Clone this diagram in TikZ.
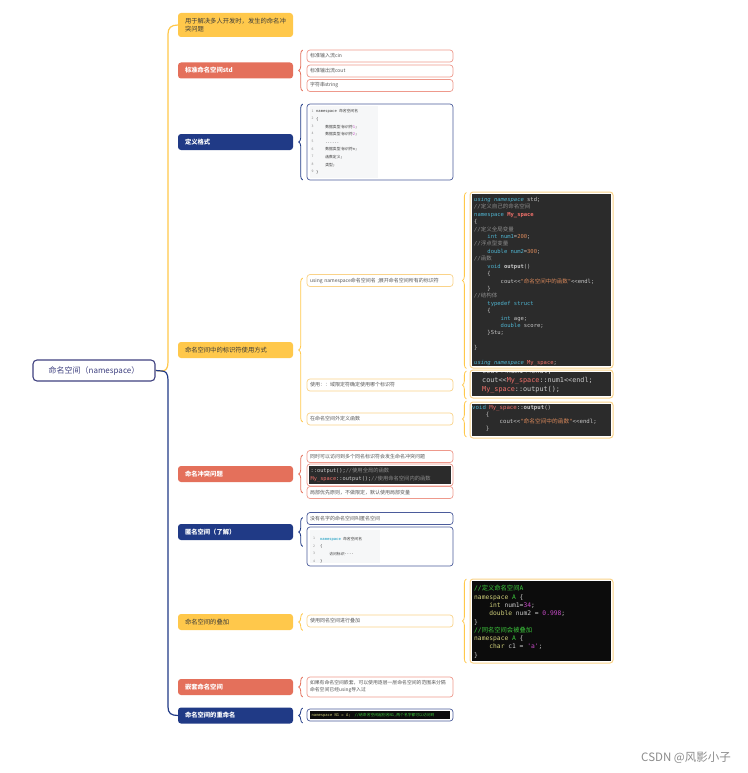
\documentclass[tikz,border=0pt]{standalone}
\usepackage{fontspec}
\setmainfont{Noto Sans CJK SC}
\setmonofont{DejaVu Sans Mono}
\newfontfamily\cjk{Noto Sans CJK SC}
\usetikzlibrary{decorations.pathreplacing}
\definecolor{nsyellow}{HTML}{FFC84B}
\definecolor{nsyellowl}{HTML}{FAD389}
\definecolor{nsred}{HTML}{E4705B}
\definecolor{nsredl}{HTML}{EE998C}
\definecolor{nsblue}{HTML}{203A86}
\definecolor{nsbluel}{HTML}{4B5B9B}
\definecolor{nsroot}{HTML}{3F4180}
\definecolor{nstext}{HTML}{3A3A3A}
\definecolor{nsgray}{HTML}{555555}
\definecolor{codebg}{HTML}{2B2B2B}
\definecolor{codefg}{HTML}{C8C8C8}
\definecolor{lightbg}{HTML}{F6F7F8}
\definecolor{kwc}{HTML}{4FB3CF}
\definecolor{cmc}{HTML}{8C8C8C}
\definecolor{nmc}{HTML}{F0706A}
\definecolor{numc}{HTML}{D9885A}
\definecolor{blkbg}{HTML}{0C0C0C}
\definecolor{grc}{HTML}{3CC83C}
\definecolor{ylc}{HTML}{CFCF7A}
\definecolor{mgc}{HTML}{C64AC6}
\newcommand\ind{\phantom{xxxx}}
\newcommand\ckw[1]{\textcolor{kwc}{#1}}
\newcommand\ccm[1]{\textcolor{cmc}{\itshape #1}}
\newcommand\cnm[1]{\textcolor{nmc}{#1}}
\newcommand\cnum[1]{\textcolor{numc}{#1}}
\newcommand\cgr[1]{\textcolor{grc}{#1}}
\newcommand\cyl[1]{\textcolor{ylc}{#1}}
\newcommand\cmg[1]{\textcolor{mgc}{#1}}
\newcommand\grpbrace[4]{\draw[grp,#3] ([shift={(#4,#2)}]#1.east) -- ([shift={(#4,-#2)}]#1.east);}
\begin{document}
\begin{tikzpicture}[x=1pt,y=-1pt,
  root/.style={draw=nsroot,line width=1.1pt,fill=white,rounded corners=4pt,minimum width=122pt,minimum height=21pt,inner sep=0pt,text=nsroot,font=\fontsize{8}{10}\selectfont},
  mainbox/.style={rounded corners=3pt,minimum width=115pt,minimum height=16pt,inner sep=0pt,text width=101pt,align=left,font=\fontsize{6.3}{8.3}\selectfont},
  ybox/.style={mainbox,fill=nsyellow,text=nstext},
  rbox/.style={mainbox,fill=nsred,text=white,font=\fontsize{6.3}{8.3}\selectfont\bfseries},
  bbox/.style={mainbox,fill=nsblue,text=white,font=\fontsize{6.3}{8.3}\selectfont\bfseries},
  leaf/.style={draw,fill=white,rounded corners=3pt,line width=.7pt,minimum width=146pt,minimum height=12pt,inner sep=0pt,text width=140pt,align=left,text=nsgray,font=\fontsize{5}{7}\selectfont},
  yleaf/.style={leaf,draw=nsyellowl},
  rleaf/.style={leaf,draw=nsredl},
  bleaf/.style={leaf,draw=nsbluel},
  codebox/.style={draw=nsyellowl,fill=white,rounded corners=3pt,line width=1pt,minimum width=143pt,inner sep=0pt},
  codetxt/.style={inner sep=0pt,anchor=north west,align=left,text=codefg},
  grp/.style={decorate,decoration={brace,amplitude=4pt},line width=.8pt}]
\fill[white] (0,0) rectangle (747,773);
\useasboundingbox (0,0) rectangle (747,773);

\node[root] (root) at (94,370.5) {命名空间（namespace）};

\node[ybox,minimum height=24pt] (c1) at (235.5,25) {用于解决多人开发时，发生的命名冲\\突问题};
\node[rbox] (c2) at (235.5,70.5) {标准命名空间std};
\node[bbox] (c3) at (235.5,142) {定义格式};
\node[ybox] (c4) at (235.5,350) {命名空间中的标识符使用方式};
\node[rbox] (c5) at (235.5,474) {命名冲突问题};
\node[bbox] (c6) at (235.5,532) {匿名空间（了解）};
\node[ybox] (c7) at (235.5,622) {命名空间的叠加};
\node[rbox] (c8) at (235.5,687) {嵌套命名空间};
\node[bbox] (c9) at (235.5,715.5) {命名空间的重命名};

\coordinate (tk) at (162,371);
\draw[nsyellow,line width=1.2pt] (root.east) -- (tk) .. controls (166,371) and (168,368) .. (168,362) -- (168,34) .. controls (168,28) and (171,25) .. (c1.west);
\draw[nsblue,line width=1.2pt] (root.east) -- (tk) .. controls (166,371) and (168,374) .. (168,380) -- (168,707) .. controls (168,713) and (171,715.5) .. (c9.west);

\node[rleaf] (l21) at (380,56) {标准输入流cin};
\node[rleaf] (l22) at (380,71) {标准输出流cout};
\node[rleaf] (l23) at (380,85.5) {字符串string};
\grpbrace{c2}{20.5}{nsred}{9.5}

\node[bleaf,minimum height=76pt] (l31) at (380,142) {};
\fill[lightbg] (310,106) rectangle (378,178);
\node[codetxt,text=cmc,font=\ttfamily\fontsize{3.2}{7.6}\selectfont] (n31) at (311.5,109.5) {1\\2\\3\\4\\5\\6\\7\\8\\9};
\node[codetxt,text=nstext,font=\ttfamily\fontsize{3.8}{7.6}\selectfont] (t31) at (316,109.5) {namespace {\cjk 命名空间名}\\\{\\\ind{\cjk 数据类型 标识符}\textcolor{mgc}{1};\\\ind{\cjk 数据类型 标识符}\textcolor{mgc}{2};\\\ind......\\\ind{\cjk 数据类型 标识符}n;\\\ind{\cjk 函数定义};\\\ind{\cjk 类型};\\\}};
\grpbrace{c3}{38}{nsblue}{9.5}

\node[yleaf] (l41) at (380,280.5) {using namespace命名空间名 ;展开命名空间所有的标识符};
\node[yleaf] (l42) at (380,385) {使用：：域限定符确定使用哪个标识符};
\node[yleaf] (l43) at (380,419) {在命名空间外定义函数};
\grpbrace{c4}{72}{nsyellow}{9.5}

\node[codebox,minimum height=176pt] (k41) at (541.5,280) {};
\fill[codebg] ([shift={(2.5,2.5)}]k41.north west) rectangle ([shift={(-2.5,-2.5)}]k41.south east);
\node[codetxt,font=\ttfamily\fontsize{5.5}{7.42}\selectfont] (t41) at ([shift={(4.5,5.5)}]k41.north west) {\ckw{\itshape using} \ckw{\itshape namespace} std;\\
\ccm{//{\cjk 定义自己的命名空间}}\\
\ckw{namespace} \cnm{\bfseries My\_space}\\
\{\\
\ccm{//{\cjk 定义全局变量}}\\
\ind\ckw{int} \ckw{num1}=\cnum{200};\\
\ccm{//{\cjk 浮点型变量}}\\
\ind\ckw{double} \ckw{num2}=\cnum{300};\\
\ccm{//{\cjk 函数}}\\
\ind\ckw{void} {\bfseries output}()\\
\ind\{\\
\ind\ind cout<<\cnum{"{\cjk 命名空间中的函数}"}<<endl;\\
\ind\}\\
\ccm{//{\cjk 结构体}}\\
\ind\ckw{typedef} \ckw{struct}\\
\ind\{\\
\ind\ind\ckw{int} age;\\
\ind\ind\ckw{double} score;\\
\ind\}Stu;\\
\mbox{}\\
\}\\
\mbox{}\\
\ckw{\itshape using} \ckw{\itshape namespace} \cnm{My\_space};};
\grpbrace{l41}{88}{nsyellow}{13}

\node[codebox,minimum height=28pt] (k42) at (541.5,384) {};
\fill[codebg] ([shift={(2.5,2.5)}]k42.north west) rectangle ([shift={(-2.5,-2.5)}]k42.south east);
\begin{scope}
\clip ([shift={(2.5,2.5)}]k42.north west) rectangle ([shift={(-2.5,-2.5)}]k42.south east);
\node[codetxt,font=\ttfamily\fontsize{6.8}{9}\selectfont] (t42) at (482,368) {cout<<num1<<endl;\\cout<<\cnm{My\_space}::num1<<endl;\\\cnm{My\_space}::output();};
\end{scope}
\grpbrace{l42}{14}{nsyellow}{13}

\node[codebox,minimum height=36pt] (k43) at (541.5,420) {};
\fill[codebg] ([shift={(2.5,2.5)}]k43.north west) rectangle ([shift={(-2.5,-2.5)}]k43.south east);
\node[codetxt,font=\ttfamily\fontsize{5.7}{6.9}\selectfont] (t43) at (472,405.2) {\ckw{void} \cnm{My\_space}::{\bfseries output}()\\\ind\{\\\ind\ind cout<<\cnum{"{\cjk 命名空间中的函数}"}<<endl;\\\ind\}};
\grpbrace{l43}{18}{nsyellow}{13}

\node[rleaf] (l51) at (380,456.5) {同时可以访问到多个同名标识符会发生命名冲突问题};
\node[rleaf,minimum height=22pt] (l52) at (380,475) {};
\fill[codebg] ([shift={(2,2.5)}]l52.north west) rectangle ([shift={(-2,-2.5)}]l52.south east);
\node[codetxt,font=\ttfamily\fontsize{5.3}{7.6}\selectfont] (t52) at (310.5,468.2) {::output();\ccm{//{\cjk 使用全局的函数}}\\\cnm{My\_space}::output();\ccm{//{\cjk 使用命名空间内的函数}}};
\node[rleaf] (l53) at (380,492.5) {局部优先原则，不做限定，默认使用局部变量};
\grpbrace{c5}{19}{nsred}{9.5}

\node[bleaf] (l61) at (380,518.5) {没有名字的命名空间叫匿名空间};
\node[bleaf,minimum height=39pt] (l62) at (380,546.5) {};
\fill[lightbg] (310,530) rectangle (380,563);
\node[codetxt,text=cmc,font=\ttfamily\fontsize{3.2}{7.5}\selectfont] (n62) at (313,537) {1\\2\\3\\4};
\node[codetxt,text=nstext,font=\ttfamily\fontsize{3.8}{7.5}\selectfont] (t62) at (320,537) {\textcolor{kwc}{\bfseries namespace} {\cjk 命名空间名}\\\{\\\ind{\cjk 访问标识}····\\\}};
\grpbrace{c6}{14.5}{nsblue}{9.5}

\node[yleaf] (l71) at (380,621) {使用同名空间进行叠加};
\grpbrace{c7}{8.5}{nsyellow}{9.5}
\node[codebox,minimum height=84pt] (k71) at (541.5,621) {};
\fill[blkbg] ([shift={(2.5,2.5)}]k71.north west) rectangle ([shift={(-2.5,-2.5)}]k71.south east);
\node[codetxt,font=\ttfamily\fontsize{6.3}{8.3}\selectfont] (t71) at (474,585.3) {\cgr{//{\cjk 定义命名空间}A}\\
\cyl{namespace} \cgr{A} \{\\
\ind\cyl{int} num1=\cmg{34};\\
\ind\cyl{double} num2 = \cmg{0.998};\\
\}\\
\cgr{//{\cjk 同名空间会被叠加}}\\
\cyl{namespace} \cgr{A} \{\\
\ind\cyl{char} c1 = \cmg{'a'};\\
\}};
\grpbrace{l71}{42}{nsyellow}{13}

\node[rleaf,minimum height=20pt] (l81) at (380,687) {\fontsize{4.85}{7.3}\selectfont 如果有命名空间嵌套，可以使用逐层一层命名空间的范围来分隔\\命名空间已经using导入过};
\grpbrace{c8}{10}{nsred}{9.5}

\node[bleaf] (l91) at (380,715) {};
\fill[blkbg] (310,711) rectangle (450,719);
\node[codetxt,font=\ttfamily\fontsize{3.8}{5}\selectfont] (t91) at (311.5,713.3) {\cyl{namespace N1 = A;}\hspace{4pt}\cgr{//{\cjk 给命名空间起别名}N1,{\cjk 两个名字都可以访问到}}};
\grpbrace{c9}{7.5}{nsblue}{9.5}

\node[text=cmc,font=\fontsize{11.5}{13}\selectfont] (wm) at (686,758) {CSDN @风影小子};
\end{tikzpicture}
\end{document}
